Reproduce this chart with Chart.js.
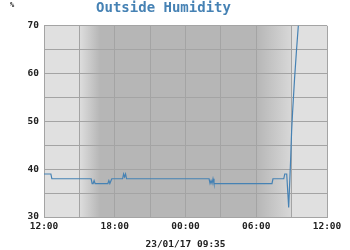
<!DOCTYPE html>
<html>
<head>
<meta charset="utf-8">
<script src="https://cdn.jsdelivr.net/npm/chart.js@4/dist/chart.umd.min.js"></script>
<style>
  html, body { margin: 0; padding: 0; background: #fff; }
  #wrap { width: 350px; height: 250px; }
</style>
</head>
<body>
<div id="wrap"><canvas id="humedad"></canvas></div>
<script>
// datos (hora, humedad %)
const horas = ['12:00', '12:35', '12:40', '16:00', '16:05', '16:10', '16:15', '16:20',
  '17:25', '17:30', '17:35', '17:45', '18:40', '18:45', '18:50', '18:55', '19:00',
  '02:00', '02:05', '02:10', '02:15', '02:20', '02:25', '07:20', '07:25', '08:20',
  '08:25', '08:35', '08:45', '08:55', '09:00', '09:05', '09:15', '09:25', '09:35'];
const humedad = [39, 39, 38, 38, 37, 37, 37.6, 37,
  37, 37.6, 37, 38, 38, 39, 38.4, 39, 38,
  38, 37, 37.6, 37, 38, 37, 37, 38, 38,
  39, 39, 32, 42, 48, 52, 59, 65, 70.5];
const etiquetasX = ['12:00', '18:00', '00:00', '06:00', '12:00'];
const etiquetasY = [30, 40, 50, 60, 70];
const titulo = 'Outside Humidity';
const fechaHora = '23/01/17 09:35';
const unidad = '%';
// noche: inicio crepusculo, noche cerrada, inicio amanecer, fin amanecer
const noche = ['15:00', '16:45', '06:00', '09:00'];

// horas desde las 12:00
function aHoras(t) {
  const [h, m] = t.split(':').map(Number);
  return (((h * 60 + m) - 720 + 1440) % 1440) / 60;
}

const puntos = horas.map((t, i) => ({ x: aHoras(t), y: humedad[i] }));
const fuente = { family: 'DejaVu Sans Mono', size: 9.5, weight: 'bold' };

// fondo gris con la banda de la noche
const fondoNoche = {
  id: 'fondoNoche',
  beforeDraw(chart) {
    const { ctx, chartArea: a, scales: { x } } = chart;
    ctx.save();
    ctx.fillStyle = '#e0e0e0';
    ctx.fillRect(a.left, a.top, a.right - a.left, a.bottom - a.top);
    const px = noche.map(t => x.getPixelForValue(aHoras(t)));
    const w = px[3] - px[0];
    const g = ctx.createLinearGradient(px[0], 0, px[3], 0);
    g.addColorStop(0, '#dedede');
    g.addColorStop((px[1] - px[0]) / w, '#b6b6b6');
    g.addColorStop((px[2] - px[0]) / w, '#b6b6b6');
    g.addColorStop(1, '#d8d8d8');
    ctx.fillStyle = g;
    ctx.fillRect(px[0], a.top, w, a.bottom - a.top);
    ctx.restore();
  },
  afterDraw(chart) {
    const ctx = chart.ctx;
    ctx.save();
    ctx.fillStyle = '#222';
    ctx.font = 'bold 7px "DejaVu Sans Mono"';
    ctx.textBaseline = 'middle';
    ctx.fillText(unidad, 10, 5);
    ctx.restore();
  }
};

new Chart(document.getElementById('humedad').getContext('2d'), {
  type: 'line',
  data: {
    datasets: [{
      data: puntos,
      borderColor: '#4682b4',
      borderWidth: 1.2,
      pointRadius: 0,
      tension: 0,
      fill: false
    }]
  },
  options: {
    responsive: true,
    maintainAspectRatio: false,
    animation: false,
    layout: { padding: { left: 0, right: 23, top: 0, bottom: 0 } },
    plugins: {
      legend: { display: false },
      tooltip: { enabled: false },
      title: {
        display: true,
        text: titulo,
        color: '#4682b4',
        font: { family: 'DejaVu Sans Mono', size: 14, weight: 'bold' },
        padding: { top: 0, bottom: 9 }
      }
    },
    scales: {
      x: {
        type: 'linear',
        min: 0,
        max: 24,
        afterFit: s => { s.height = 33; },
        grid: { color: '#a4a4a4', drawTicks: false },
        border: { color: '#a4a4a4' },
        ticks: {
          stepSize: 3,
          padding: 4,
          color: '#222',
          font: fuente,
          maxRotation: 0,
          autoSkip: false,
          callback: v => (v % 6 === 0 ? etiquetasX[v / 6] : '')
        },
        title: {
          display: true,
          text: fechaHora,
          color: '#222',
          font: fuente,
          padding: { top: 6, bottom: 0 }
        }
      },
      y: {
        min: 30,
        max: 70,
        afterFit: s => { s.width = 44; },
        grid: { color: '#a4a4a4', drawTicks: false },
        border: { color: '#a4a4a4' },
        ticks: {
          stepSize: 5,
          padding: 5,
          color: '#222',
          font: fuente,
          callback: v => (etiquetasY.includes(v) ? v : '')
        }
      }
    }
  },
  plugins: [fondoNoche]
});
</script>
</body>
</html>
